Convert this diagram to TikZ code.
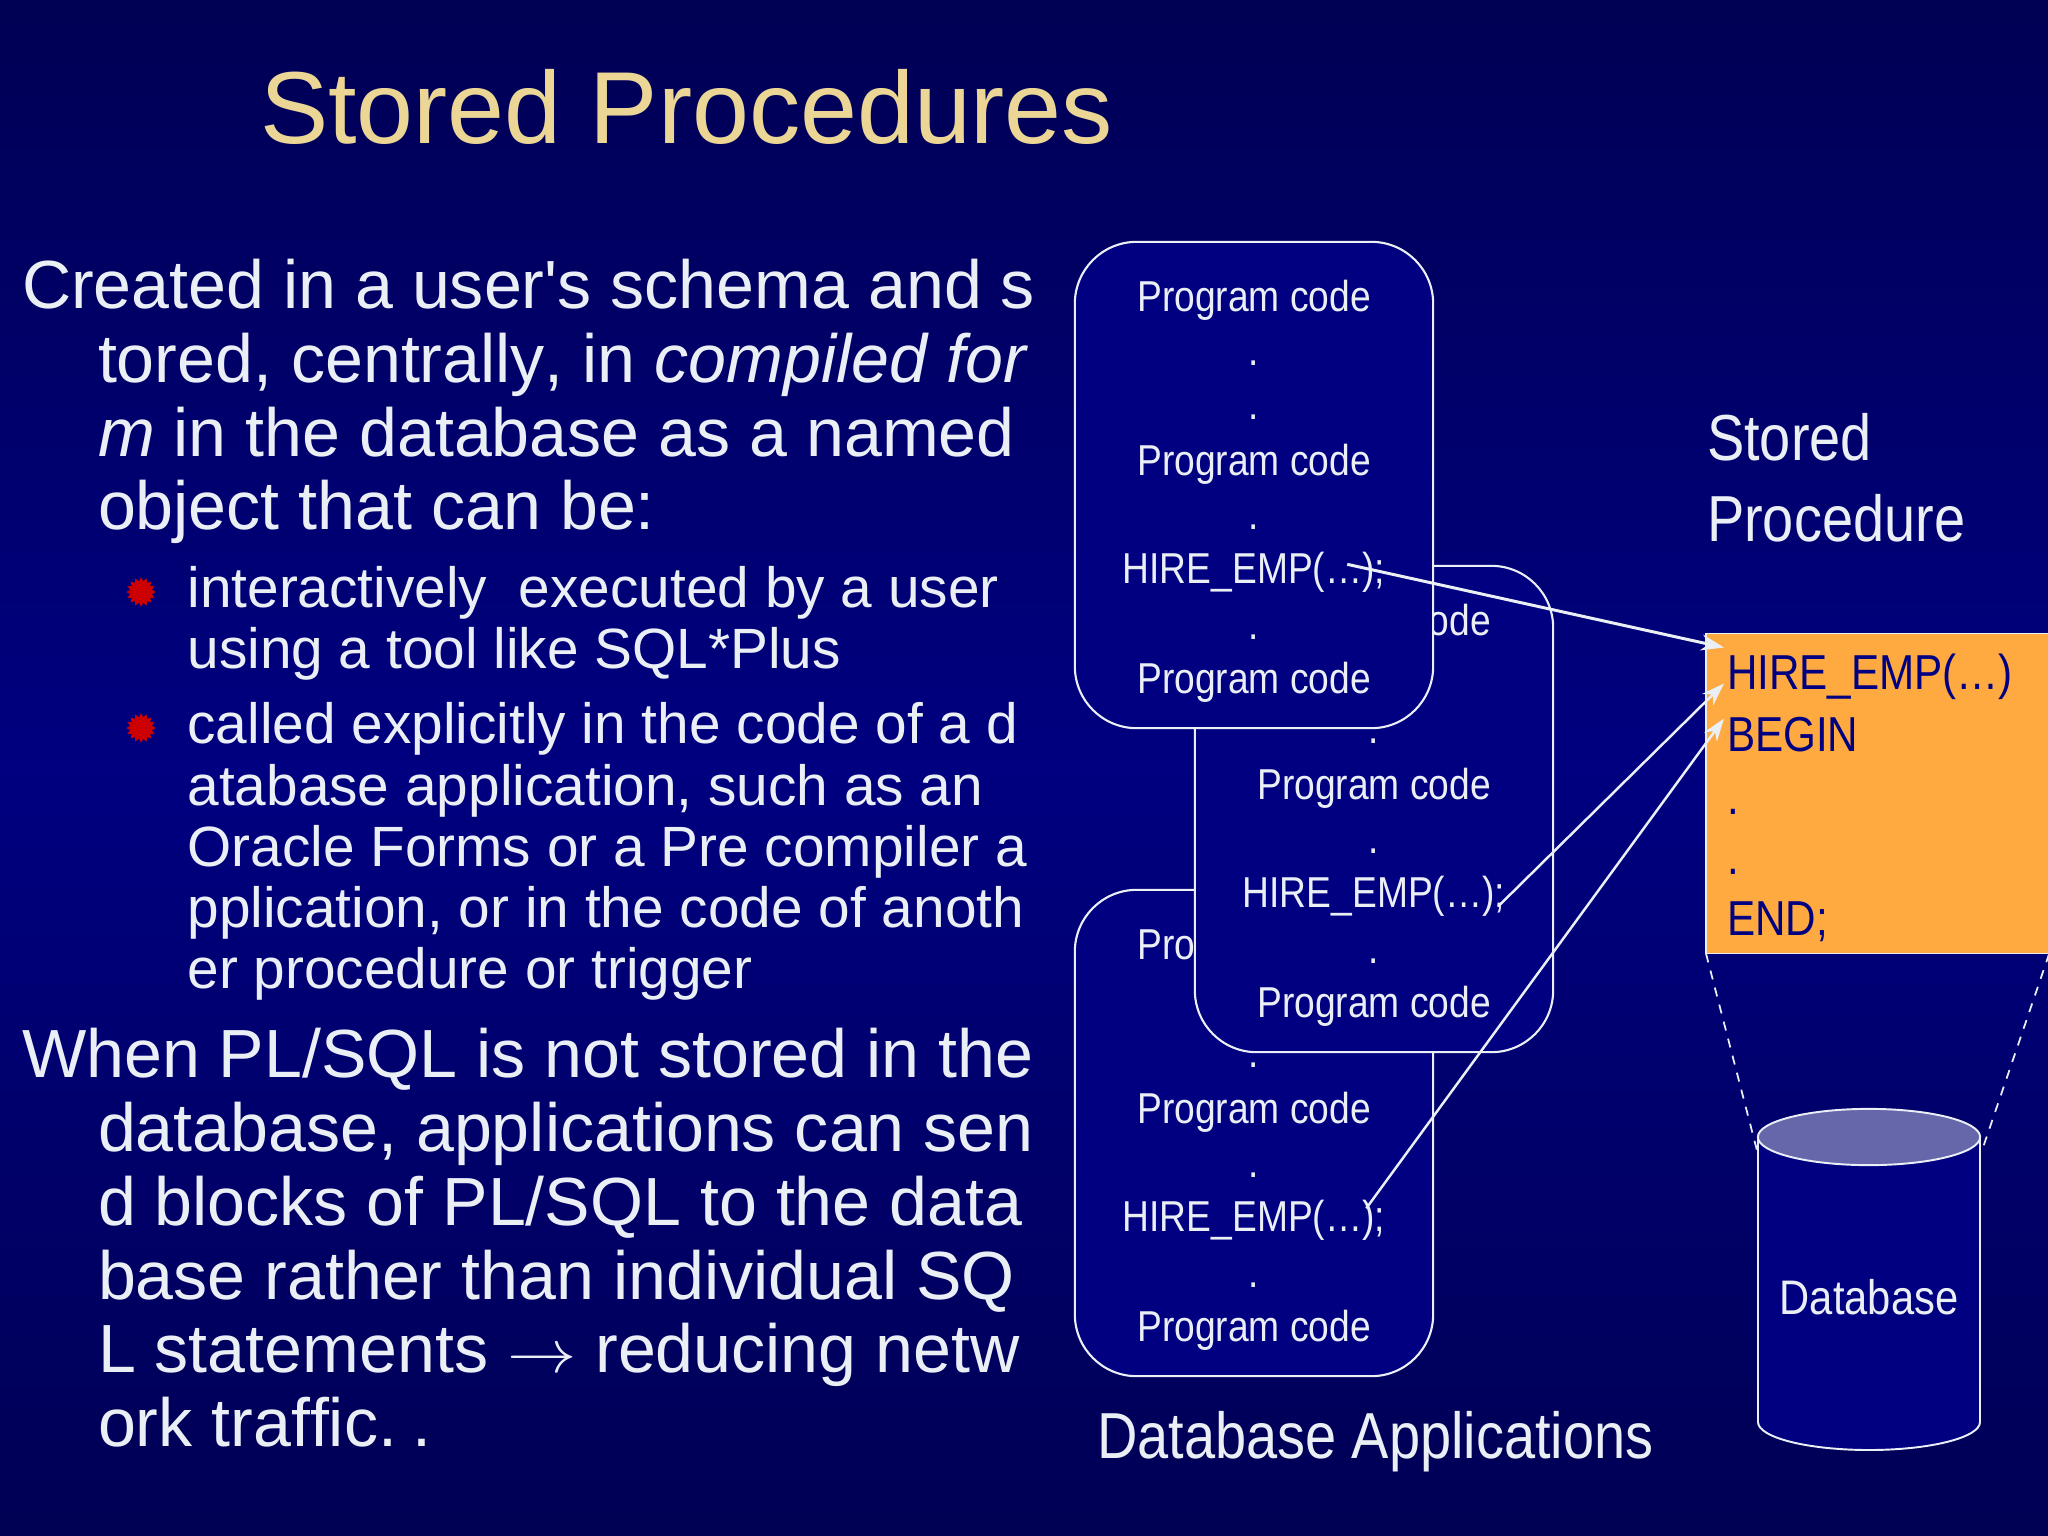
\documentclass[tikz,border=0pt]{standalone}
\usepackage{fontspec}
\setmainfont{Liberation Sans}[Kerning=Off]
\newfontfamily\narrowfont{Liberation Sans}[FakeStretch=0.86]
\usetikzlibrary{arrows.meta,calc,shapes.geometric}

\definecolor{slideEdge}{RGB}{0,0,84}
\definecolor{slideNavy}{RGB}{0,0,128}
\definecolor{slideText}{RGB}{234,238,245}
\definecolor{slideTitle}{RGB}{236,214,150}
\definecolor{procOrange}{RGB}{255,170,64}
\definecolor{barrelTop}{RGB}{102,102,170}
\definecolor{bulletRed}{RGB}{204,0,0}

\tikzset{
  every node/.style={inner sep=0pt,outer sep=0pt},
  body/.style={anchor=base west,text=slideText,font=\fontsize{19.38pt}{22pt}\selectfont},
  sub/.style={anchor=base west,text=slideText,font=\fontsize{16.15pt}{19pt}\selectfont},
  bulletmark/.style={star,star points=16,star point ratio=1.35,minimum size=8.4pt,fill=bulletRed},
  codebox/.style={draw=slideText,line width=.6pt,fill=slideNavy,rounded corners=17.6pt,minimum width=101.9pt,minimum height=138.3pt},
  codeline/.style={anchor=base,text=slideText,font=\narrowfont\fontsize{12.3pt}{14pt}\selectfont},
  proclabel/.style={anchor=base west,text=slideText,font=\narrowfont\fontsize{18.5pt}{21pt}\selectfont},
  procline/.style={anchor=base west,text=slideNavy,font=\narrowfont\fontsize{13.95pt}{16pt}\selectfont},
  call/.style={draw=slideText,line width=.7pt,-{Stealth[length=6.5pt,width=4.5pt]}},
  funnel/.style={draw=slideText,line width=.5pt,dash pattern=on 2.6pt off 2.4pt},
}

\begin{document}
\begin{tikzpicture}[x=0.01cm,y=-0.01cm]
\useasboundingbox (0,0) rectangle (2048,1536);
\shade[top color=slideEdge,bottom color=slideEdge,middle color=slideNavy] (0,0) rectangle (2048,1536);

\node[anchor=base west,text=slideTitle,font=\fontsize{29.1pt}{33pt}\selectfont] (title) at (260,143) {Stored Procedures};

% left column
\node[body] (para1a) at (22,308) {Created in a user\textquotesingle s schema and s};
\node[body] (para1b) at (98,382) {tored, centrally, in \textit{compiled for}};
\node[body] (para1c) at (98,456) {\textit{m} in the database as a named};
\node[body] (para1d) at (98,529) {object that can be:};
\node[bulletmark] (mark1) at (141,592) {};
\node[sub] (sub1a) at (187.5,607) {interactively\ \ executed by a user};
\node[sub] (sub1b) at (187.5,668) {using a tool like SQL*Plus};
\node[bulletmark] (mark2) at (141,728) {};
\node[sub] (sub2a) at (187.5,743) {called explicitly in the code of a d};
\node[sub] (sub2b) at (187.5,805) {atabase application, such as an};
\node[sub] (sub2c) at (187.5,866) {Oracle Forms or a Pre compiler a};
\node[sub] (sub2d) at (187.5,927) {pplication, or in the code of anoth};
\node[sub] (sub2e) at (187.5,988) {er procedure or trigger};
\node[body] (para2a) at (22,1077) {When PL/SQL is not stored in the};
\node[body] (para2b) at (98,1151) {database, applications can sen};
\node[body] (para2c) at (98,1225) {d blocks of PL/SQL to the data};
\node[body] (para2d) at (98,1299) {base rather than individual SQ};
\node[body] (para2e) at (98,1372) {L statements {\fontsize{18.6pt}{22pt}\selectfont\scalebox{1.14}[1]{$\rightarrow$}} reducing netw};
\node[body] (para2f) at (98,1446) {ork traffic.\hspace{.22em}.};

% application boxes, back to front
\foreach \NAME/\DX/\DY in {C/0/648,B/120/324,A/0/0}{
  \begin{scope}[shift={(\DX,\DY)}]
    \node[codebox] (box\NAME) at (1254,485) {};
    \foreach \Y/\TXT [count=\i] in {311.5/Program code,365.4/.,419.7/.,475.5/Program code,529/.,583.5/HIRE\_EMP(…);,639/.,693.5/Program code}
      \node[codeline] (code\NAME\i) at (1254,\Y) {\TXT};
  \end{scope}
}
\node[proclabel] (appslabel) at (1097,1458) {Database Applications};

% stored procedure
\node[proclabel] (storedlabel) at (1707,460) {Stored};
\node[proclabel] (proclabel) at (1707,541) {Procedure};
\node[draw=slideText,line width=.5pt,fill=procOrange,anchor=north west,minimum width=97.6pt,minimum height=91pt] (proc) at (1706,633.5) {};
\foreach \Y/\TXT [count=\i] in {689/HIRE\_EMP(…),751/BEGIN,814/.,874/.,935/END;}
  \node[procline] (procline\i) at (1727,\Y) {\TXT};

% database
\draw[draw=slideText,line width=.55pt,fill=slideNavy] (1758,1137) -- ++(0,285) arc[start angle=180,end angle=0,x radius=111,y radius=28] -- (1980,1137);
\node[ellipse,draw=slideText,line width=.55pt,fill=barrelTop,minimum width=63.2pt,minimum height=16pt] (dbtop) at (1869,1137) {};
\node[anchor=base,text=slideText,font=\narrowfont\fontsize{13.8pt}{16pt}\selectfont] (dblabel) at (1869,1314) {Database};
\draw[funnel] (proc.south west) -- ($(dbtop.west)+(-1,13)$);
\draw[funnel] (proc.south east) -- ($(dbtop.east)+(2,13)$);

% calls
\coordinate (startA) at ($(codeA6.east)+(-38,-8)$);
\coordinate (startB) at ($(codeB6.east)+(-7,10)$);
\coordinate (startC) at ($(codeC6.east)+(-19,-12)$);
\coordinate (entryA) at ($(proc.north west)+(18,14)$);
\coordinate (entryB) at ($(proc.north west)+(18,50)$);
\coordinate (entryC) at ($(proc.north west)+(18,85)$);
\draw[call,line width=.85pt] (startA) -- (entryA);
\draw[call] (startB) -- (entryB);
\draw[call] (startC) -- (entryC);
\end{tikzpicture}
\end{document}
